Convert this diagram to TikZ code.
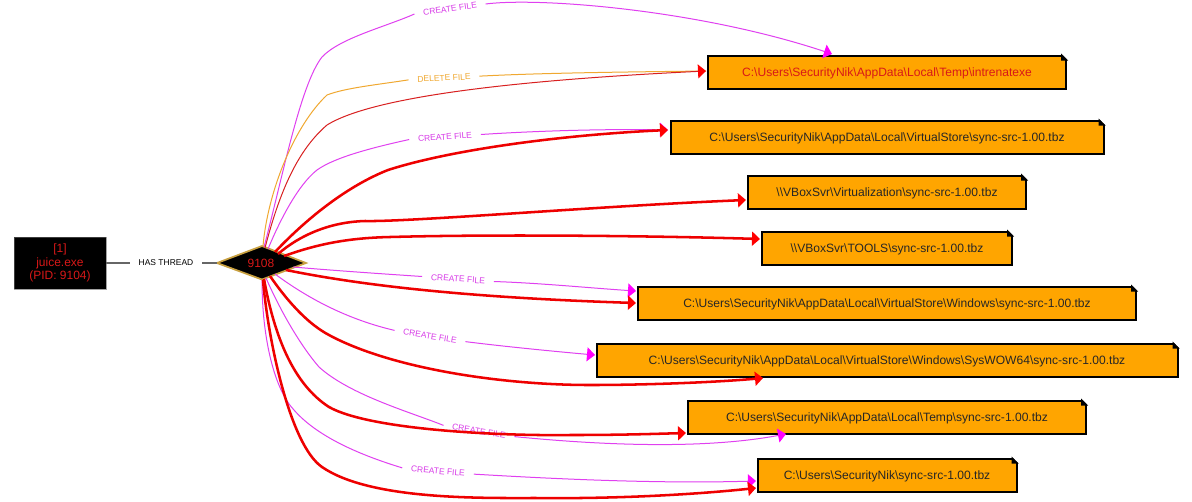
\documentclass[tikz,border=0pt]{standalone}
\usepackage{fontspec}
\setmainfont{Liberation Sans}
\usetikzlibrary{arrows.meta}
\definecolor{orangebox}{HTML}{FFA500}
\definecolor{magline}{HTML}{E040F0}
\definecolor{maglabel}{HTML}{D83CE8}
\definecolor{maghead}{HTML}{FF00FF}
\definecolor{redhead}{HTML}{FF0000}
\definecolor{redline}{HTML}{EE0000}
\definecolor{thinredline}{HTML}{D82020}
\definecolor{orangeline}{HTML}{F0A830}
\definecolor{redtext}{HTML}{D81818}
\definecolor{gold}{HTML}{C8A040}
\newcommand{\bs}{\textbackslash}
\tikzset{
  x=0.75pt,y=-0.75pt,
  notebox/.style={draw=black,line width=1.5pt,fill=orangebox,inner sep=0pt,text height=7.5pt,text depth=1.5pt,font=\fontsize{9.05}{11}\selectfont,text=black!85},
  edgelabel/.style={inner ysep=0pt,inner xsep=6.5pt,font=\fontsize{6.35}{7}\selectfont},
  createlabel/.style={edgelabel,text=maglabel},
  createedge/.style={draw=magline,line width=0.75pt},
  createhead/.style={createedge,-{Triangle[length=6pt,width=10.5pt,color=maghead,fill=maghead]}},
  rededge/.style={draw=redline,line width=1.9pt,-{Triangle[length=6pt,width=10.5pt,color=redhead,fill=redhead]}},
  thinred/.style={draw=thinredline,line width=0.75pt,-{Triangle[length=6pt,width=10.5pt,color=redhead,fill=redhead]}},
  threadedge/.style={draw=black!60,line width=1pt},
}
\begin{document}
\begin{tikzpicture}
\useasboundingbox[fill=white] (0,0) rectangle (1192,501);
% source and thread
\node[fill=black,draw=black!60,draw opacity=0.6,line width=0.4pt,text=redtext,align=center,inner sep=0pt,minimum width=92*0.75pt,minimum height=52*0.75pt,font=\fontsize{9}{10.4}\selectfont] (proc) at (60,263) {[1]\\juice.exe\\(PID: 9104)};
\draw[fill=black,draw=gold,line width=1.3pt] (217,263) coordinate (dw) -- (262,246) coordinate (dn) -- (306,263) coordinate (de) -- (262,279.5) coordinate (ds) -- cycle;
\node[text=redtext,inner sep=0pt,font=\fontsize{9}{11}\selectfont] (thr) at (261,263) {9108};
\node[edgelabel,text=black] (has) at (166,263) {HAS THREAD};
\draw[threadedge] (proc.east) -- (has.west);
\draw[threadedge] (has.east) -- (dw);
% file notes
\node[notebox,minimum width=358*0.75pt,minimum height=33*0.75pt,text=redtext] (n1) at (887,72) {C:\bs Users\bs SecurityNik\bs AppData\bs Local\bs Temp\bs intrenatexe};
\node[notebox,minimum width=433*0.75pt,minimum height=33*0.75pt] (n2) at (887,137) {C:\bs Users\bs SecurityNik\bs AppData\bs Local\bs VirtualStore\bs sync-src-1.00.tbz};
\node[notebox,minimum width=278*0.75pt,minimum height=33*0.75pt] (n3) at (887,192) {\bs\bs VBoxSvr\bs Virtualization\bs sync-src-1.00.tbz};
\node[notebox,minimum width=250*0.75pt,minimum height=33*0.75pt] (n4) at (887,248) {\bs\bs VBoxSvr\bs TOOLS\bs sync-src-1.00.tbz};
\node[notebox,minimum width=498*0.75pt,minimum height=33*0.75pt] (n5) at (887,303) {C:\bs Users\bs SecurityNik\bs AppData\bs Local\bs VirtualStore\bs Windows\bs sync-src-1.00.tbz};
\node[notebox,minimum width=581*0.75pt,minimum height=33*0.75pt] (n6) at (887,360) {C:\bs Users\bs SecurityNik\bs AppData\bs Local\bs VirtualStore\bs Windows\bs SysWOW64\bs sync-src-1.00.tbz};
\node[notebox,minimum width=398*0.75pt,minimum height=33*0.75pt] (n7) at (887,417) {C:\bs Users\bs SecurityNik\bs AppData\bs Local\bs Temp\bs sync-src-1.00.tbz};
\node[notebox,minimum width=259*0.75pt,minimum height=33*0.75pt] (n8) at (887,475) {C:\bs Users\bs SecurityNik\bs sync-src-1.00.tbz};
\foreach \n in {n1,n2,n3,n4,n5,n6,n7,n8}{
  \fill[white] ([shift={(-6,-1)}]\n.north east) -- ([shift={(1,-1)}]\n.north east) -- ([shift={(1,6)}]\n.north east) -- cycle;
  \fill[black] ([shift={(-6,-1)}]\n.north east) -- ([shift={(1,6)}]\n.north east) -- ([shift={(-6,6)}]\n.north east) -- cycle;
}
% labels
\node[createlabel,rotate=8] (la) at (450,9) {CREATE FILE};
\node[edgelabel,text=orangeline,rotate=3] (lb) at (444,78) {DELETE FILE};
\node[createlabel,rotate=4] (ld) at (445,137) {CREATE FILE};
\node[createlabel,rotate=-4] (lh) at (458,279) {CREATE FILE};
\node[createlabel,rotate=-9] (lj) at (430,336) {CREATE FILE};
\node[createlabel,rotate=-9] (ll) at (479,431) {CREATE FILE};
\node[createlabel,rotate=-5] (ln) at (438,471) {CREATE FILE};
% free ends on the notes
\coordinate (ta) at (832,54);
\coordinate (tb) at (706,71);
\coordinate (t2) at (668,130);
\coordinate (t3) at (746,200);
\coordinate (t4) at (760,239);
\coordinate (t5m) at (636,291);
\coordinate (t5r) at (636,303);
\coordinate (t6m) at (595,355);
\coordinate (t6r) at (763,378);
\coordinate (t7r) at (686,433);
\coordinate (t7m) at (786,434);
\coordinate (t8m) at (756,481);
\coordinate (t8r) at (756,488);
\coordinate (sa) at (264,247);
\coordinate (sb) at (263,246);
\coordinate (sc) at (265,248);
\coordinate (sd) at (268,249);
\coordinate (se) at (275,252);
\coordinate (sf) at (278,254);
\coordinate (sg) at (284,256);
\coordinate (sh) at (293,267);
\coordinate (si) at (286,270);
\coordinate (sj) at (275,274);
\coordinate (sk) at (270,276);
\coordinate (sl) at (266,278);
\coordinate (sm) at (264,279);
\coordinate (sn) at (262,280);
\coordinate (so) at (263,280);
% edges
\draw[createedge] (sa) .. controls (282,180) and (300,85) .. (322,57) .. controls (340,38) and (385,27) .. (la.west);
\draw[createhead] (la.east) .. controls (540,-3) and (700,10) .. (ta);
\draw[draw=orangeline,line width=0.75pt] (sb) .. controls (268,190) and (295,125) .. (327,95) .. controls (345,88) and (375,85) .. (lb.west);
\draw[draw=orangeline,line width=0.75pt] (lb.east) .. controls (540,73) and (620,72) .. (tb);
\draw[thinred] (sc) .. controls (280,190) and (298,150) .. (327,125) .. controls (380,92) and (560,78) .. (tb);
\draw[createedge] (sd) .. controls (280,220) and (298,185) .. (317,170) .. controls (335,157) and (375,147) .. (ld.west);
\draw[createhead] (ld.east) .. controls (550,130) and (620,129) .. (t2);
\draw[rededge] (se) .. controls (310,215) and (350,185) .. (388,170) .. controls (450,150) and (560,135) .. (t2);
\draw[rededge] (sf) .. controls (300,235) and (330,222) .. (365,221) .. controls (410,222) and (600,206) .. (t3);
\draw[rededge] (sg) .. controls (315,245) and (345,238) .. (390,237) .. controls (500,234) and (660,236) .. (t4);
\draw[createedge] (sh) .. controls (340,271) and (385,274) .. (lh.west);
\draw[createhead] (lh.east) .. controls (540,283) and (590,288) .. (t5m);
\draw[rededge] (si) .. controls (350,283) and (450,297) .. (t5r);
\draw[createedge] (sj) .. controls (310,300) and (350,320) .. (lj.west);
\draw[createhead] (lj.east) .. controls (500,346) and (550,351) .. (t6m);
\draw[rededge] (sk) .. controls (290,305) and (310,325) .. (329,335) .. controls (390,368) and (500,385) .. (590,385) .. controls (650,385) and (720,382) .. (t6r);
\draw[createedge] (sl) .. controls (280,310) and (300,345) .. (319,367) .. controls (350,395) and (410,412) .. (ll.west);
\draw[createhead] (ll.east) .. controls (570,442) and (690,452) .. (t7m);
\draw[rededge] (sm) .. controls (275,340) and (295,385) .. (329,407) .. controls (370,430) and (500,436) .. (570,435) .. controls (620,435) and (650,434) .. (t7r);
\draw[createedge] (sn) .. controls (262,340) and (275,390) .. (294,410) .. controls (320,440) and (370,458) .. (ln.west);
\draw[createhead] (ln.east) .. controls (540,478) and (650,484) .. (t8m);
\draw[rededge] (so) .. controls (268,340) and (290,445) .. (322,467) .. controls (370,500) and (480,498) .. (536,498) .. controls (620,499) and (700,494) .. (t8r);
\end{tikzpicture}
\end{document}
